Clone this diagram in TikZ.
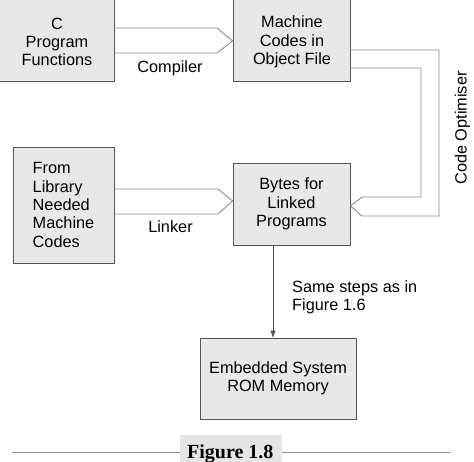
\documentclass[tikz,border=0pt]{standalone}
\usepackage{fontspec}
\setmainfont{Liberation Sans}
\newfontfamily\capfont{Liberation Serif}
\usetikzlibrary{arrows.meta,calc}
\definecolor{boxfill}{HTML}{E8E8E8}
\definecolor{boxline}{HTML}{555555}
\definecolor{arrline}{HTML}{8A8A8A}
\definecolor{capfill}{HTML}{E6E6E6}
\tikzset{
  blk/.style={draw=boxline, fill=boxfill, line width=0.9pt, inner sep=0pt,
    font=\fontsize{16.3}{18.3}\selectfont, align=center},
  txt/.style={inner sep=0pt, font=\fontsize{16.3}{18.3}\selectfont, align=center},
  hollow/.style={draw=arrline, line width=0.9pt, line join=miter},
  lbl/.style={font=\fontsize{16.3}{18.3}\selectfont, inner sep=0pt},
}
\begin{document}
\begin{tikzpicture}[x=1pt,y=-1pt]
\useasboundingbox (0,0) rectangle (474,462);
% boxes
\node[blk, minimum width=116pt, minimum height=86pt] (c) at (56,38) {};
\node[txt] (ct) at (57,42) {C\\Program\\Functions};
\node[blk, minimum width=117pt, minimum height=86pt] (m) at (291.5,38) {};
\node[txt] (mt) at (292,42) {Machine\\Codes in\\Object File};
\node[blk, minimum width=101pt, minimum height=116pt, align=left] (l) at (63.5,205) {From\\Library\\Needed\\Machine\\Codes};
\node[blk, minimum width=117pt, minimum height=82pt] (b) at (291.5,204) {Bytes for\\Linked\\Programs};
\node[blk, minimum width=156pt, minimum height=81pt] (e) at (278,378.5) {Embedded System\\ROM Memory};
% compiler arrow
\draw[hollow] (c.east |- 0,28) -- (217,28) -- (m.west |- 0,41) -- (217,53) -- (c.east |- 0,53);
\node[lbl, anchor=base] (cl) at (170,73) {Compiler};
% linker arrow
\draw[hollow] (l.east |- 0,189) -- (218,189) -- (b.west |- 0,201) -- (218,214) -- (l.east |- 0,214);
\node[lbl, anchor=base] (ll) at (170.5,233) {Linker};
% code optimiser arrow
\draw[hollow] (m.east |- 0,50) -- (439,50) -- (439,216) -- (362,216) -- (b.east |- 0,206)
  -- (362,197) -- (421,197) -- (421,68) -- (m.east |- 0,68);
\node[lbl, rotate=90, anchor=base] (ol) at (466.5,128) {Code Optimiser};
% down arrow
\draw[draw=boxline, line width=0.7pt, -{Triangle[length=7pt,width=5pt]}] (b.south -| 273,0) -- (e.north -| 273,0);
\node[lbl, anchor=base west, align=left] (sl) at (292,293) {Same steps as in};
\node[lbl, anchor=base west] (sl2) at (292,311) {Figure 1.6};
% caption
\fill[capfill] (180,435) rectangle (282,462);
\node[anchor=base west, inner sep=0pt, font=\capfont\bfseries\fontsize{20}{22}\selectfont] (fig) at (187,458) {Figure 1.8};
\draw[arrline, line width=0.9pt] (12,452) -- (180,452);
\draw[arrline, line width=0.9pt] (282,452) -- (450,452);
\end{tikzpicture}
\end{document}
